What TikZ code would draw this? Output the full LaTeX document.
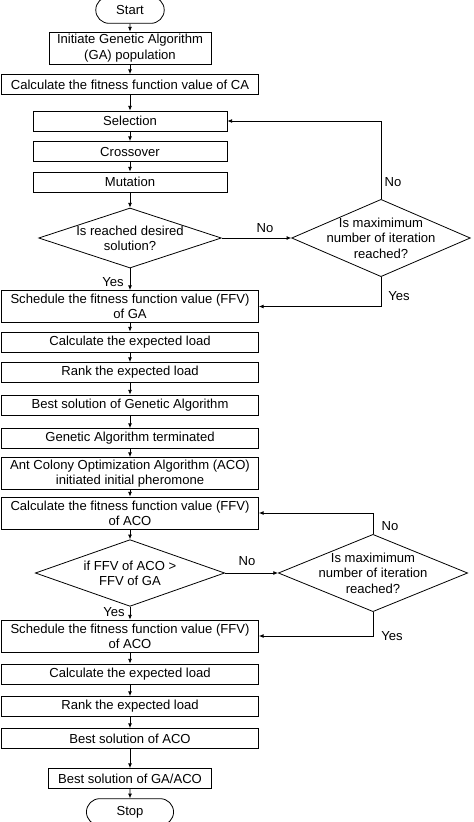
\documentclass[tikz,border=0pt]{standalone}
\usepackage{fontspec}
\setmainfont{Liberation Sans}
\usetikzlibrary{shapes.geometric,shapes.misc,arrows.meta}

\begin{document}
\begin{tikzpicture}[x=0.75pt,y=0.75pt,yscale=-1,xscale=1,
  font=\fontsize{9.8}{11.5}\selectfont,
  box/.style={draw,line width=0.6pt,inner sep=1pt,align=center,minimum height=15pt},
  wide/.style={box,minimum width=192.75pt},
  narrow/.style={box,minimum width=145.5pt},
  tall/.style={minimum height=24pt},
  decide/.style={draw,diamond,line width=0.6pt,inner sep=0pt},
  term/.style={draw,rounded rectangle,line width=0.6pt,minimum width=58pt,minimum height=20pt},
  link/.style={-{Latex[length=3.5pt,width=3pt]},line width=0.6pt}]
\useasboundingbox (0,0) rectangle (474,822);

%Terminal [id:start] 
\node [term] (start) at (130,10) {Start};

%Genetic Algorithm part 
\node [box,minimum width=121.5pt,tall] (init) at (130,48) {Initiate Genetic Algorithm\\(GA) population};
\node [wide] (calcga) at (130,84.5) {Calculate the fitness function value of CA};
\node [narrow] (sel) at (130,121) {Selection};
\node [narrow] (cross) at (130,151.5) {Crossover};
\node [narrow] (mut) at (130,182) {Mutation};
%Diamond [id:d1] 
\node [decide,minimum width=137pt,minimum height=45pt] (d1) at (130,238) {};
\node (d1t) at (d1) [align=center] {Is reached desired\\solution?};
%Diamond [id:d2] 
\node [decide,minimum width=134pt,minimum height=58pt] (d2) at (381,238) {};
\node (d2t) at (d2) [align=center] {Is maximimum\\number of iteration\\reached?};
\node [wide,tall] (schedga) at (130,306.5) {Schedule the fitness function value (FFV)\\of GA};
\node [wide] (loadga) at (130,342) {Calculate the expected load};
\node [wide] (rankga) at (130,372.5) {Rank the expected load};
\node [wide] (bestga) at (130,405) {Best solution of Genetic Algorithm};
\node [wide] (termga) at (130,438.5) {Genetic Algorithm terminated};

%Ant Colony part 
\node [wide,tall] (initaco) at (130,473.5) {Ant Colony Optimization Algorithm (ACO)\\initiated initial pheromone};
\node [wide,tall] (calcaco) at (130,513) {Calculate the fitness function value (FFV)\\of ACO};
%Diamond [id:d3] 
\node [decide,minimum width=142pt,minimum height=50pt] (d3) at (130,573) {};
\node (d3t) at (d3) [align=center] {if FFV of ACO >\\FFV of GA};
%Diamond [id:d4] 
\node [decide,minimum width=142pt,minimum height=58pt] (d4) at (373,573) {};
\node (d4t) at (d4) [align=center] {Is maximimum\\number of iteration\\reached?};
\node [wide,tall] (schedaco) at (130,636) {Schedule the fitness function value (FFV)\\of ACO};
\node [wide] (loadaco) at (130,674) {Calculate the expected load};
\node [wide] (rankaco) at (130,706.5) {Rank the expected load};
\node [wide] (bestaco) at (130,738.5) {Best solution of ACO};
\node [box,minimum width=122pt] (bestall) at (130,778.5) {Best solution of GA/ACO};

%Terminal [id:stop] 
\node [term,minimum width=72pt] (stop) at (130,812) {Stop};

%Straight arrows 
\draw [link] (start) -- (init);
\draw [link] (init) -- (calcga);
\draw [link] (calcga) -- (sel);
\draw [link] (sel) -- (cross);
\draw [link] (cross) -- (mut);
\draw [link] (mut) -- (d1);
\draw [link] (d1) -- (schedga);
\draw [link] (d1.east) -- (d2.west);
\draw [link] (schedga) -- (loadga);
\draw [link] (loadga) -- (rankga);
\draw [link] (rankga) -- (bestga);
\draw [link] (bestga) -- (termga);
\draw [link] (termga) -- (initaco);
\draw [link] (initaco) -- (calcaco);
\draw [link] (calcaco) -- (d3);
\draw [link] (d3) -- (schedaco);
\draw [link] (d3.east) -- (d4.west);
\draw [link] (schedaco) -- (loadaco);
\draw [link] (loadaco) -- (rankaco);
\draw [link] (rankaco) -- (bestaco);
\draw [link] (bestaco) -- (bestall);
\draw [link] (bestall) -- (stop);

%Loop back arrows 
\draw [link] (d2.north) |- (sel.east);
\draw [link] (d2.south) |- (schedga.east);
\draw [link] (d4.north) |- (calcaco.east);
\draw [link] (d4.south) |- (schedaco.east);

% Text Node
\node (no1) at (265,228) {No};
\node (yes1) at (113,282) {Yes};
\node (no2) at (393,182) {No};
\node (yes2) at (399,296) {Yes};
\node (no3) at (247,561) {No};
\node (yes3) at (114,612) {Yes};
\node (no4) at (390,526) {No};
\node (yes4) at (392,636) {Yes};

\end{tikzpicture}
\end{document}
